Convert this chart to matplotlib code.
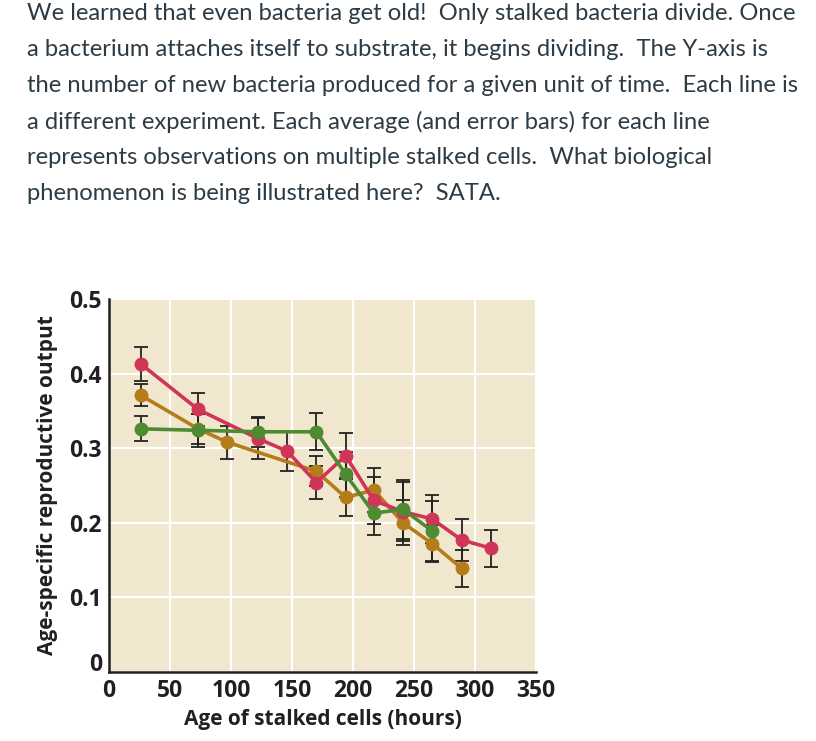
import matplotlib.pyplot as plt
import matplotlib.transforms as mtransforms
import numpy as np

# paragraph above the chart
question_lines = [
    "We learned that even bacteria get old!  Only stalked bacteria divide. Once",
    "a bacterium attaches itself to substrate, it begins dividing.  The Y-axis is",
    "the number of new bacteria produced for a given unit of time.  Each line is",
    "a different experiment. Each average (and error bars) for each line",
    "represents observations on multiple stalked cells.  What biological",
    "phenomenon is being illustrated here?  SATA.",
]

# three experiments (age in hours, reproductive output, error)
red_x = [26, 73, 122, 146, 170, 194, 217, 241, 265, 289, 313]
red_y = [0.413, 0.352, 0.313, 0.296, 0.254, 0.290, 0.230, 0.215, 0.205, 0.177, 0.166]
red_err = [0.023, 0.022, 0.027, 0.027, 0.022, 0.030, 0.032, 0.040, 0.032, 0.028, 0.025]

orange_x = [26, 73, 97, 170, 194, 217, 241, 265, 289]
orange_y = [0.371, 0.326, 0.308, 0.269, 0.234, 0.244, 0.200, 0.172, 0.139]
orange_err = [0.015, 0.020, 0.022, 0.020, 0.025, 0.030, 0.030, 0.025, 0.025]

green_x = [26, 73, 122, 170, 194, 217, 241, 265]
green_y = [0.326, 0.324, 0.322, 0.322, 0.265, 0.213, 0.218, 0.189]
green_err = [0.017, 0.022, 0.020, 0.025, 0.030, 0.030, 0.040, 0.040]

x_ticks = [0, 50, 100, 150, 200, 250, 300, 350]
y_ticks = [0, 0.1, 0.2, 0.3, 0.4, 0.5]
y_ticklabels = ["0", "0.1", "0.2", "0.3", "0.4", "0.5"]

fig = plt.figure(figsize=(8.16, 7.41), dpi=100)

for i, line in enumerate(question_lines):
    fig.text(27 / 816, 1 - (14 + 36 * i) / 741, line, family="Lato",
             fontsize=17.1, color="#2d3b45", va="center", ha="left")

ax = fig.add_axes([109 / 816, 69 / 741, 427 / 816, 373 / 741])
ax.set_facecolor("#f1e7cf")

series = [
    (orange_x, orange_y, orange_err, "#b57d1a"),
    (red_x, red_y, red_err, "#cf3557"),
    (green_x, green_y, green_err, "#4e8a31"),
]
for xs, ys, es, col in series:
    ax.errorbar(xs, ys, yerr=es, fmt="none", ecolor="#222222",
                elinewidth=1.3, capsize=5, capthick=1.3, zorder=3)
for xs, ys, es, col in series:
    ax.plot(xs, ys, color=col, lw=2.6, marker="o", markersize=9, zorder=4)

ax.set_xlim(0, 350)
ax.set_ylim(0, 0.5)
ax.set_xticks(x_ticks)
ax.set_yticks(y_ticks)
ax.set_yticklabels(y_ticklabels)
ax.grid(True, color="white", lw=1.5)
ax.set_axisbelow(True)
ax.tick_params(length=0, pad=5, labelsize=16.5, labelcolor="#231f20")
for lab in ax.get_xticklabels() + ax.get_yticklabels():
    lab.set_fontweight("bold")
    lab.set_family("Open Sans")

# the y "0" sits a little above the x axis in the original
zero_lab = ax.get_yticklabels()[0]
zero_lab.set_transform(zero_lab.get_transform() +
                       mtransforms.ScaledTranslation(0, 7 / 72, fig.dpi_scale_trans))

for s in ["top", "right"]:
    ax.spines[s].set_visible(False)
for s in ["left", "bottom"]:
    ax.spines[s].set_color("#231f20")
    ax.spines[s].set_linewidth(1.8)

ax.set_xlabel("Age of stalked cells (hours)", family="Open Sans",
              fontweight="bold", fontsize=15, color="#231f20", labelpad=4)
ax.set_ylabel("Age-specific reproductive output", family="Open Sans",
              fontweight="bold", fontsize=15, color="#231f20", labelpad=8)

fig.savefig("out.png", dpi=100)
